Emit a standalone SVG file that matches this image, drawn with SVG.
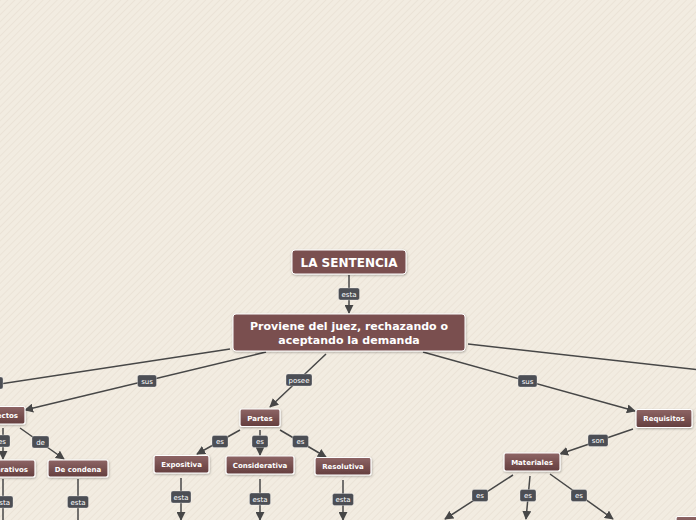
<svg xmlns="http://www.w3.org/2000/svg" width="696" height="520" viewBox="0 0 696 520">
<defs>
<pattern id="bg" width="5" height="5" patternUnits="userSpaceOnUse" patternTransform="rotate(45)">
<rect width="5" height="5" fill="#f2ece1"/>
<line x1="0" y1="0" x2="0" y2="5" stroke="#e9e1d4" stroke-width="1.5"/>
</pattern>
<linearGradient id="ng" x1="0" y1="0" x2="0" y2="1">
<stop offset="0" stop-color="#8e6565"/>
<stop offset="1" stop-color="#643e3e"/>
</linearGradient>
<filter id="sh" x="-20%" y="-20%" width="140%" height="160%">
<feDropShadow dx="0.5" dy="1" stdDeviation="0.8" flood-color="#000" flood-opacity="0.3"/>
</filter>
<marker id="arr" viewBox="0 0 10 10" refX="9" refY="5" markerWidth="9" markerHeight="9" markerUnits="userSpaceOnUse" orient="auto">
<path d="M0,0 L10,5 L0,10 z" fill="#474747"/>
</marker>
</defs>
<style>
.big{fill:#7a4f4f;stroke:#ffffff;stroke-width:1;filter:url(#sh)}
.sm{fill:url(#ng);stroke:#ffffff;stroke-width:1.2;filter:url(#sh)}
.bt{font-family:"DejaVu Sans",Verdana,sans-serif;font-weight:bold;fill:#ffffff;text-anchor:middle}
.st{font-family:"DejaVu Sans",Verdana,sans-serif;font-weight:bold;font-size:7px;fill:#ffffff;text-anchor:middle}
.ln{stroke:#474747;stroke-width:1.5;fill:none}
.lb{fill:#4c4e54;stroke:#ffffff;stroke-width:0.5;stroke-opacity:0.6}
.lt{font-family:"DejaVu Sans",Verdana,sans-serif;font-size:7px;fill:#ffffff;text-anchor:middle}
</style>
<rect width="696" height="520" fill="url(#bg)"/>

<g id="connectors">
<line class="ln" x1="349" y1="275" x2="349" y2="313" marker-end="url(#arr)"/>
<line class="ln" x1="230" y1="349" x2="-20" y2="387"/>
<line class="ln" x1="266" y1="352" x2="25" y2="410" marker-end="url(#arr)"/>
<line class="ln" x1="326" y1="354" x2="270" y2="407" marker-end="url(#arr)"/>
<line class="ln" x1="423" y1="352" x2="635" y2="411" marker-end="url(#arr)"/>
<line class="ln" x1="468" y1="344" x2="700" y2="370"/>
<line class="ln" x1="3" y1="428" x2="3" y2="459" marker-end="url(#arr)"/>
<line class="ln" x1="20" y1="428" x2="64" y2="459" marker-end="url(#arr)"/>
<line class="ln" x1="3" y1="479" x2="3" y2="520"/>
<line class="ln" x1="78" y1="479" x2="78" y2="520"/>
<line class="ln" x1="240" y1="430" x2="197" y2="454" marker-end="url(#arr)"/>
<line class="ln" x1="260" y1="430" x2="260" y2="455" marker-end="url(#arr)"/>
<line class="ln" x1="280" y1="430" x2="326" y2="457" marker-end="url(#arr)"/>
<line class="ln" x1="181" y1="478" x2="181" y2="520" marker-end="url(#arr)"/>
<line class="ln" x1="260" y1="479" x2="260" y2="520" marker-end="url(#arr)"/>
<line class="ln" x1="343" y1="480" x2="343" y2="520" marker-end="url(#arr)"/>
<line class="ln" x1="633" y1="429" x2="560" y2="454" marker-end="url(#arr)"/>
<line class="ln" x1="513" y1="475" x2="445" y2="519" marker-end="url(#arr)"/>
<line class="ln" x1="530" y1="476" x2="526" y2="519" marker-end="url(#arr)"/>
<line class="ln" x1="550" y1="474" x2="613" y2="519" marker-end="url(#arr)"/>

<rect class="lb" x="338.5" y="288" width="21" height="12" rx="2"/><text class="lt" x="349" y="296.5">esta</text>
<rect class="lb" x="-16" y="377" width="19" height="12" rx="2"/>
<rect class="lb" x="137.5" y="375" width="19" height="12" rx="2"/><text class="lt" x="147" y="383.5">sus</text>
<rect class="lb" x="286" y="374" width="26" height="12" rx="2"/><text class="lt" x="299" y="382.5">posee</text>
<rect class="lb" x="518" y="375" width="19" height="12" rx="2"/><text class="lt" x="527.5" y="383.5">sus</text>
<rect class="lb" x="-6" y="435" width="16" height="12" rx="2"/><text class="lt" x="2" y="443.5">es</text>
<rect class="lb" x="32" y="436" width="17" height="12" rx="2"/><text class="lt" x="40.5" y="444.5">de</text>
<rect class="lb" x="-8" y="496" width="21" height="12" rx="2"/><text class="lt" x="2.5" y="504.5">esta</text>
<rect class="lb" x="67.5" y="496" width="21" height="12" rx="2"/><text class="lt" x="78" y="504.5">esta</text>
<rect class="lb" x="212" y="435.5" width="16" height="12" rx="2"/><text class="lt" x="220" y="444">es</text>
<rect class="lb" x="252" y="435.5" width="16" height="12" rx="2"/><text class="lt" x="260" y="444">es</text>
<rect class="lb" x="292.5" y="435.5" width="16" height="12" rx="2"/><text class="lt" x="300.5" y="444">es</text>
<rect class="lb" x="171" y="491" width="20" height="12" rx="2"/><text class="lt" x="181" y="499.5">esta</text>
<rect class="lb" x="249.5" y="493" width="21" height="12" rx="2"/><text class="lt" x="260" y="501.5">esta</text>
<rect class="lb" x="332.5" y="493.5" width="21" height="12" rx="2"/><text class="lt" x="343" y="502">esta</text>
<rect class="lb" x="588" y="434.5" width="20" height="12" rx="2"/><text class="lt" x="598" y="443">son</text>
<rect class="lb" x="472" y="489.5" width="16" height="12" rx="2"/><text class="lt" x="480" y="498">es</text>
<rect class="lb" x="520" y="489.5" width="16" height="12" rx="2"/><text class="lt" x="528" y="498">es</text>
<rect class="lb" x="571" y="489.5" width="16" height="12" rx="2"/><text class="lt" x="579" y="498">es</text>
</g>

<g id="n-sentencia"><rect class="big" x="292" y="250" width="114" height="24" rx="3"/><text class="bt" x="349" y="266.5" font-size="12">LA SENTENCIA</text></g>
<g id="n-proviene"><rect class="big" x="233" y="314" width="232" height="37" rx="3"/><text class="bt" x="349" y="330" font-size="11">Proviene del juez, rechazando o</text><text class="bt" x="349" y="344" font-size="11">aceptando la demanda</text></g>
<g id="n-aspectos"><rect class="sm" x="-30" y="406.5" width="55" height="17.5" rx="2"/><text class="st" x="18" y="418" text-anchor="end" style="text-anchor:end">Aspectos</text></g>
<g id="n-declarativos"><rect class="sm" x="-40" y="460" width="75" height="17" rx="2"/><text class="st" x="28" y="471.5" style="text-anchor:end">Declarativos</text></g>
<g id="n-condena"><rect class="sm" x="48" y="460" width="60" height="17" rx="2"/><text class="st" x="78" y="471.5">De condena</text></g>
<g id="n-partes"><rect class="sm" x="240" y="409" width="40" height="17.5" rx="2"/><text class="st" x="260" y="420.5">Partes</text></g>
<g id="n-expositiva"><rect class="sm" x="154" y="455.5" width="55" height="17.5" rx="2"/><text class="st" x="181.5" y="467">Expositiva</text></g>
<g id="n-considerativa"><rect class="sm" x="226" y="456" width="68" height="18" rx="2"/><text class="st" x="260" y="468">Considerativa</text></g>
<g id="n-resolutiva"><rect class="sm" x="315" y="457.5" width="56" height="17.5" rx="2"/><text class="st" x="343" y="469">Resolutiva</text></g>
<g id="n-requisitos"><rect class="sm" x="636" y="409.5" width="56" height="18" rx="2"/><text class="st" x="664" y="421">Requisitos</text></g>
<g id="n-materiales"><rect class="sm" x="504" y="453" width="56" height="18" rx="2"/><text class="st" x="532" y="465">Materiales</text></g>
<g id="n-corner"><rect class="sm" x="676" y="516.5" width="40" height="18" rx="2"/></g>
</svg>
